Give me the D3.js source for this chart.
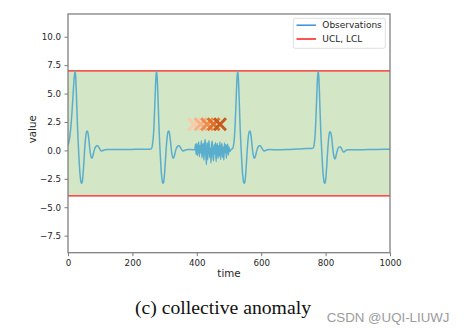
<!DOCTYPE html>
<html><head><meta charset="utf-8">
<script src="https://cdn.jsdelivr.net/npm/d3@7"></script>
<style>
html,body{margin:0;padding:0;background:#fff;}
svg{display:block;}
</style></head>
<body>
<svg id="chart" width="464" height="334"></svg>
<script>
// ---- data ----
const xTicks = [0, 200, 400, 600, 800, 1000];
const yTicks = [-7.5, -5.0, -2.5, 0.0, 2.5, 5.0, 7.5, 10.0];
const xDomain = [0, 1000];
const yDomain = [-9, 12];
const ucl = 7, lcl = -4;

const beat1 = [[0,0.45],[4,0.9],[8,1.8],[12,3.2],[16,5.0],[19,6.3],[22,7.0],
 [24,6.4],[26,5.0],[28,3.3],[30,1.7],[32,0.5],[34,-0.6],[36,-1.6],[38,-2.3],[40,-2.75],[42,-2.9],
 [44,-2.8],[46,-2.35],[48,-1.6],[50,-0.7],[52,0.2],[54,0.9],[56,1.4],[58,1.65],[60,1.7],[62,1.55],
 [64,1.15],[66,0.6],[68,0.05],[70,-0.35],[72,-0.6],[74,-0.68],[76,-0.6],[78,-0.4],[80,-0.15],
 [83,0.15],[86,0.32],[89,0.42],[92,0.42],[95,0.3],[98,0.15],[101,0.02],[104,-0.05],[108,-0.01],[114,0.05],[122,0.07]];
const base1 = [[150,0.08],[180,0.08],[210,0.1],[235,0.1],[250,0.1]];
const beat2 = [[255,0.1],[259,0.15],[262,0.45],[265,1.2],[267,2.2],[269,3.6],[271,5.1],[273,6.4],[275,7.0],
 [277,6.4],[279,5.0],[281,3.3],[283,1.7],[285,0.5],[287,-0.6],[289,-1.6],[291,-2.3],[293,-2.75],[295,-2.9],
 [297,-2.8],[299,-2.35],[301,-1.6],[303,-0.7],[305,0.2],[307,0.9],[309,1.4],[311,1.65],[313,1.7],[315,1.55],
 [317,1.15],[319,0.6],[321,0.05],[323,-0.35],[325,-0.6],[327,-0.68],[329,-0.6],[331,-0.4],[333,-0.15],
 [336,0.15],[339,0.32],[342,0.42],[345,0.42],[348,0.3],[351,0.15],[354,0.02],[357,-0.05],[361,-0.01],[367,0.05],[375,0.07]];
const base2 = [[380,0.07],[390,0.06]];
const anomaly = [[394,0.05],[396,0.55],[398,-0.35],[400,0.6],[402,-0.45],[404,0.25],[406,0.75],[408,-0.55],
 [410,0.4],[412,-0.2],[414,0.85],[416,-0.65],[418,0.3],[420,0.6],[422,-0.85],[424,0.5],[426,0.95],[428,-0.4],
 [430,-1.25],[432,0.7],[434,-0.8],[436,0.4],[438,0.85],[440,-0.6],[442,0.2],[444,-1.1],[446,0.55],[448,0.8],
 [450,-0.5],[452,-0.9],[454,0.5],[456,-0.3],[458,0.7],[460,-1.0],[462,0.3],[464,0.6],[466,-0.7],[468,0.4],
 [470,-0.5],[472,0.75],[474,-0.8],[476,0.2],[478,0.6],[480,-0.6],[482,0.3],[484,-0.85],[486,0.65],[488,-0.2],
 [490,0.5],[492,-0.7],[494,0.4],[496,0.55],[498,-0.4],[500,0.3],[502,-0.1]];
const beat3 = [[507,0.1],[511,0.15],[514,0.45],[517,1.2],[519,2.2],[521,3.6],[523,5.1],[525,6.4],[527,7.0],
 [529,6.4],[531,5.0],[533,3.3],[535,1.7],[537,0.5],[539,-0.6],[541,-1.6],[543,-2.3],[545,-2.75],[547,-2.9],
 [549,-2.8],[551,-2.35],[553,-1.6],[555,-0.7],[557,0.2],[559,0.9],[561,1.4],[563,1.65],[565,1.7],[567,1.55],
 [569,1.15],[571,0.6],[573,0.05],[575,-0.35],[577,-0.6],[579,-0.68],[581,-0.6],[583,-0.4],[585,-0.15],
 [588,0.15],[591,0.32],[594,0.42],[597,0.42],[600,0.3],[603,0.15],[606,0.02],[609,-0.05],[613,-0.01],[619,0.05],[627,0.07]];
const base3 = [[650,0.06],[680,0.08],[710,0.12],[740,0.16],[752,0.17]];
const beat4 = [[757,0.17],[761,0.2],[764,0.45],[767,1.2],[769,2.2],[771,3.6],[773,5.1],[775,6.4],[777,7.0],
 [779,6.4],[781,5.0],[783,3.3],[785,1.7],[787,0.5],[789,-0.6],[791,-1.6],[793,-2.3],[795,-2.75],[797,-2.9],
 [799,-2.8],[801,-2.35],[803,-1.6],[805,-0.7],[807,0.2],[809,0.9],[811,1.4],[813,1.65],[815,1.6],[817,1.45],
 [819,1.1],[821,0.55],[823,0.0],[825,-0.4],[827,-0.65],[829,-0.75],[831,-0.65],[833,-0.4],[835,-0.15],
 [838,0.12],[841,0.28],[844,0.32],[847,0.28],[850,0.12],[853,-0.05],[856,-0.15],[859,-0.1],[863,0.0],[869,0.05],[877,0.06]];
const base4 = [[900,0.06],[930,0.07],[960,0.08],[1000,0.1]];

const markerTimes = [392, 412, 432, 452, 472];
const markerValue = 2.3;
const markerColors = ["#fbcaa6", "#f8b088", "#f08c4d", "#e2702c", "#c85a1c"];

const legendLabels = ["Observations", "UCL, LCL"];
const xLabel = "time", yLabel = "value";
const caption = "(c) collective anomaly";
const watermark = "CSDN @UQI-LIUWJ";

// ---- drawing ----
const observations = [].concat(beat1, base1, beat2, base2, anomaly, beat3, base3, beat4, base4);
const svg = d3.select("#chart");
const L = 68, R = 390, T = 14, B = 252.7;
const x = d3.scaleLinear().domain(xDomain).range([L, R]);
const y = d3.scaleLinear().domain(yDomain).range([B, T]);

svg.append("defs").append("clipPath").attr("id", "clip")
  .append("rect").attr("x", L).attr("y", T).attr("width", R - L).attr("height", B - T);

const plot = svg.append("g").attr("clip-path", "url(#clip)");

plot.append("path")
  .datum(xDomain)
  .attr("fill", "#d3e6c6")
  .attr("d", d3.area().x(d => x(d)).y0(y(lcl)).y1(y(ucl)));

[ucl, lcl].forEach(v => {
  plot.append("line").attr("x1", x(xDomain[0])).attr("x2", x(xDomain[1]))
    .attr("y1", y(v)).attr("y2", y(v))
    .attr("stroke", "#ff1a1a").attr("stroke-width", 1.4);
});

plot.append("path")
  .datum(observations)
  .attr("fill", "none")
  .attr("stroke", "#5aaecd")
  .attr("stroke-width", 1.5)
  .attr("stroke-linejoin", "round")
  .attr("d", d3.line().x(d => x(d[0])).y(d => y(d[1])).curve(d3.curveMonotoneX));

// filled "X" marker like matplotlib's 'X'
const symbolFilledX = {
  draw(ctx, size) {
    const h = Math.sqrt(size) / 2;   // half extent
    const t = h * 0.3;               // arm thickness offset
    ctx.moveTo(-h, -h + t); ctx.lineTo(-h + t, -h); ctx.lineTo(0, -t);
    ctx.lineTo(h - t, -h); ctx.lineTo(h, -h + t); ctx.lineTo(t, 0);
    ctx.lineTo(h, h - t); ctx.lineTo(h - t, h); ctx.lineTo(0, t);
    ctx.lineTo(-h + t, h); ctx.lineTo(-h, h - t); ctx.lineTo(-t, 0);
    ctx.closePath();
  }
};
const sym = d3.symbol().type(symbolFilledX).size(196);
plot.selectAll(".mk").data(markerTimes).join("path")
  .attr("class", "mk")
  .attr("d", sym)
  .attr("fill", (d, i) => markerColors[i])
  .attr("transform", d => `translate(${x(d)},${y(markerValue)})`);

const fmt = d3.format(".1f");
const gy = svg.append("g").attr("transform", `translate(${L},0)`)
  .call(d3.axisLeft(y).tickValues(yTicks).tickFormat(fmt).tickSize(3.5).tickPadding(3.5));
const gx = svg.append("g").attr("transform", `translate(0,${B})`)
  .call(d3.axisBottom(x).tickValues(xTicks).tickFormat(d3.format("d")).tickSize(3.5).tickPadding(3.5));
[gx, gy].forEach(g => {
  g.select(".domain").remove();
  g.selectAll(".tick line").attr("stroke", "#7a7a7a").attr("stroke-width", 1);
  g.selectAll(".tick text").attr("fill", "#262626")
    .style("font-family", "DejaVu Sans").style("font-size", "8.7px");
});

svg.append("rect").attr("x", L).attr("y", T).attr("width", R - L).attr("height", B - T)
  .attr("fill", "none").attr("stroke", "#808080").attr("stroke-width", 1.3);

svg.append("text").attr("x", (L + R) / 2).attr("y", 276.5)
  .attr("text-anchor", "middle").attr("fill", "#262626")
  .style("font-family", "DejaVu Sans").style("font-size", "10.3px").text(xLabel);
svg.append("text").attr("transform", "translate(35.6,129.3) rotate(-90)")
  .attr("text-anchor", "middle").attr("fill", "#262626")
  .style("font-family", "DejaVu Sans").style("font-size", "10.3px").text(yLabel);

const lg = svg.append("g");
lg.append("rect").attr("x", 293.3).attr("y", 18.3).attr("width", 92).attr("height", 30)
  .attr("rx", 2).attr("fill", "#fff").attr("stroke", "#d6d6d6").attr("stroke-width", 0.8);
const legendColors = ["#3d8fd9", "#ff1a1a"];
legendLabels.forEach((lab, i) => {
  const yy = 25.2 + i * 13.8;
  lg.append("line").attr("x1", 296.5).attr("x2", 316).attr("y1", yy).attr("y2", yy)
    .attr("stroke", legendColors[i]).attr("stroke-width", 1.5);
  lg.append("text").attr("x", 322.3).attr("y", yy).attr("dy", "0.35em")
    .attr("fill", "#262626").style("font-family", "DejaVu Sans").style("font-size", "9px").text(lab);
});

svg.append("text").attr("x", 223).attr("y", 313.5).attr("text-anchor", "middle")
  .attr("fill", "#111").style("font-family", "Liberation Serif").style("font-size", "19.7px").text(caption);
svg.append("text").attr("x", 326.7).attr("y", 321.5)
  .attr("fill", "#9b9b9b").style("font-family", "Liberation Sans").style("font-size", "13.3px").text(watermark);
</script>
</body></html>
